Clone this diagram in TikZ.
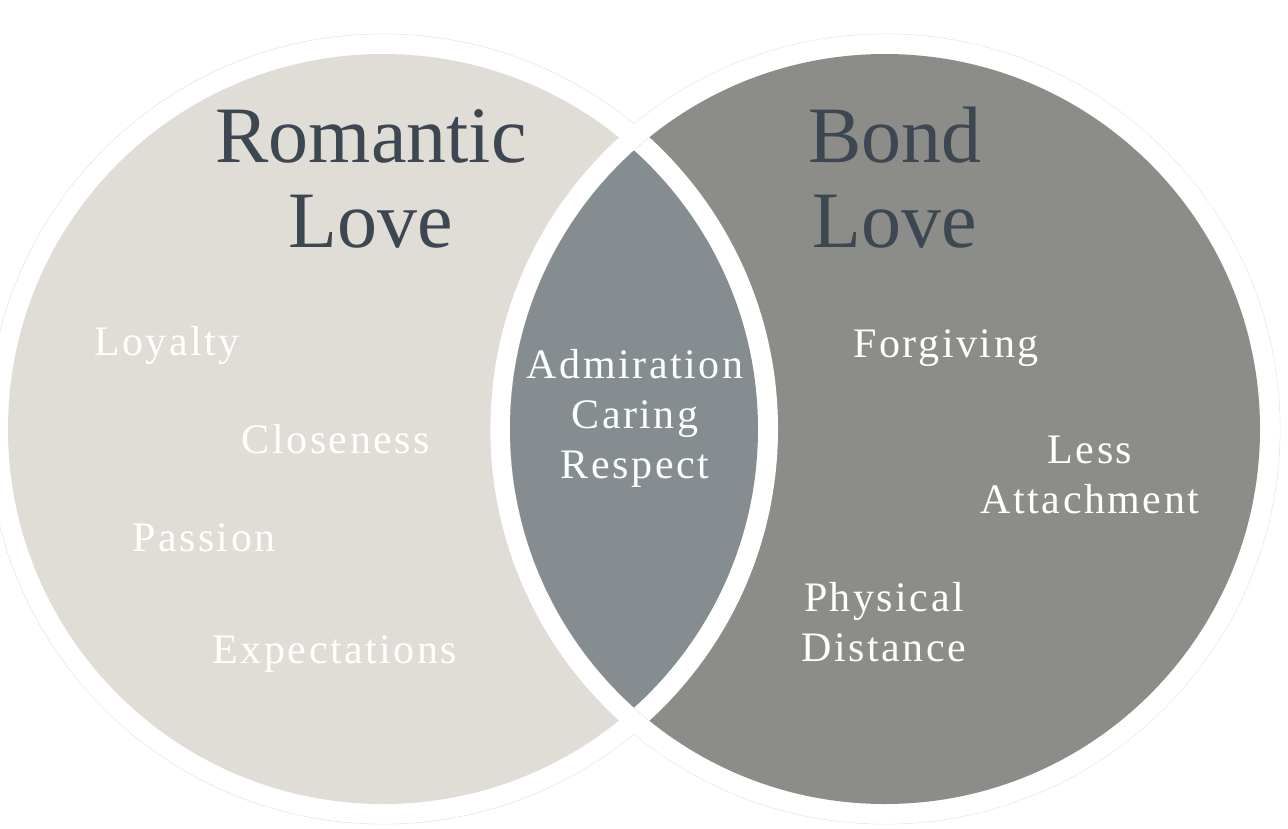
\documentclass[tikz,border=0pt]{standalone}
\usepackage{fontspec}
\setmainfont{Liberation Serif}
\newfontfamily\bodyfont[LetterSpace=6]{Liberation Serif}
\definecolor{beige}{HTML}{E0DCD6}
\definecolor{stone}{HTML}{8C8C88}
\definecolor{lensc}{HTML}{858D90}
\definecolor{titlec}{HTML}{3D4752}
\definecolor{rimc}{HTML}{E6E6E6}
\begin{document}
\begin{tikzpicture}[x=1pt,y=-1pt,
  title/.style={text=titlec,font=\fontsize{80}{85}\selectfont,align=center,anchor=base,inner sep=0pt},
  item/.style={text=white,font=\bodyfont\fontsize{42}{50}\selectfont,align=center,anchor=base,inner sep=0pt}]
\useasboundingbox (0,0) rectangle (1288,828);
\coordinate (L) at (383,429);
\coordinate (R) at (885,429);
% faint outer rims
\draw[rimc,line width=0.8pt] (L) circle (395pt) (R) circle (395pt);
\fill[white] (L) circle (394.6pt) (R) circle (394.6pt);
% left circle
\fill[beige] (L) circle (375pt);
% right circle with white ring
\fill[white] (R) circle (394.6pt);
\fill[stone] (R) circle (375pt);
% intersection with white ring of the left circle
\begin{scope}
  \clip (R) circle (375pt);
  \fill[white] (L) circle (395pt);
  \fill[lensc] (L) circle (375pt);
\end{scope}
% titles (base anchor = baseline of the last line)
\node[title] (rom) at (371,247) {Romantic\\Love};
\node[title] (bond) at (895,247) {Bond\\Love};
% left items
\node[item] (loy) at (167,355) {Loyalty};
\node[item] (clo) at (336,453) {Closeness};
\node[item] (pas) at (204,551) {Passion};
\node[item] (exp) at (335,663) {Expectations};
% centre items
\node[item] (mid) at (635,478) {Admiration\\Caring\\Respect};
% right items
\node[item] (for) at (946,357) {Forgiving};
\node[item] (less) at (1090,513) {Less\\Attachment};
\node[item] (phy) at (884,661) {Physical\\Distance};
\end{tikzpicture}
\end{document}
